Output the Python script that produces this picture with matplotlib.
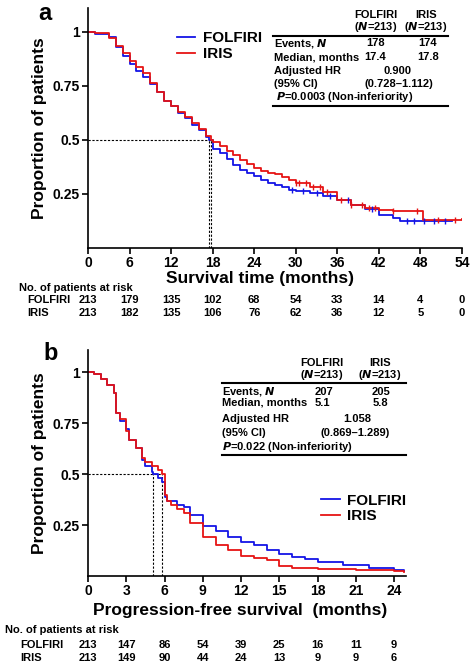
import matplotlib
matplotlib.use("Agg")
import matplotlib.pyplot as plt
import numpy as np

plt.rcParams['font.family'] = ['Liberation Sans', 'DejaVu Sans']
plt.rcParams['font.weight'] = 'bold'

BLUE = '#1414e6'
RED = '#e61414'

# Panel a: overall survival
a_folfiri_t = [0, 1, 3, 4, 5, 6, 7, 8, 9, 10, 11, 12, 13, 14, 15, 16, 17, 17.4, 18, 19, 20, 21, 22, 23, 24, 25, 26, 27, 28, 29, 30, 32, 34, 36, 38, 40, 42, 44, 45, 52.5]
a_folfiri_s = [1, 0.99, 0.975, 0.93, 0.89, 0.85, 0.82, 0.79, 0.76, 0.72, 0.68, 0.655, 0.625, 0.6, 0.57, 0.545, 0.515, 0.5, 0.46, 0.44, 0.41, 0.385, 0.36, 0.345, 0.335, 0.315, 0.3, 0.29, 0.28, 0.27, 0.265, 0.255, 0.24, 0.224, 0.2, 0.18, 0.154, 0.14, 0.123, 0.123]
a_iris_t = [0, 1, 3, 4, 5, 6, 7, 8, 9, 10, 11, 12, 13, 14, 15, 16, 17, 17.8, 18, 19, 20, 21, 22, 23, 24, 25, 26, 27, 28, 29, 30, 32, 34, 36, 38, 40, 42, 44, 48.3, 53.5, 54]
a_iris_s = [1, 0.995, 0.97, 0.935, 0.9, 0.865, 0.835, 0.81, 0.765, 0.72, 0.68, 0.655, 0.63, 0.605, 0.58, 0.55, 0.52, 0.5, 0.49, 0.47, 0.45, 0.43, 0.405, 0.39, 0.37, 0.355, 0.345, 0.34, 0.33, 0.315, 0.3, 0.28, 0.26, 0.224, 0.2, 0.185, 0.175, 0.17, 0.128, 0.128, 0.135]
a_folfiri_cens = [29.5, 31, 33, 35, 37.5, 41, 46, 47, 48.5, 50, 51.5]
a_iris_cens = [30, 30.5, 31.5, 32.5, 33.5, 34.5, 36.5, 38, 39.5, 40.5, 41.5, 44, 47.5, 50.5, 53]
a_xticks = [0, 6, 12, 18, 24, 30, 36, 42, 48, 54]
a_risk_folfiri = [213, 179, 135, 102, 68, 54, 33, 14, 4, 0]
a_risk_iris = [213, 182, 135, 106, 76, 62, 36, 12, 5, 0]
a_median = [17.4, 17.8]

# Panel b: progression-free survival
b_folfiri_t = [0, 0.5, 1, 1.5, 2, 2.2, 2.5, 3, 3.2, 3.8, 4.2, 4.5, 5, 5.1, 5.5, 5.8, 6, 6.2, 7, 7.5, 8, 9, 10, 11, 12, 13, 14, 15, 16, 17, 18, 20, 22, 24, 24.8]
b_folfiri_s = [1, 0.99, 0.97, 0.94, 0.9, 0.8, 0.76, 0.72, 0.67, 0.63, 0.57, 0.54, 0.51, 0.5, 0.48, 0.46, 0.39, 0.37, 0.35, 0.34, 0.3, 0.245, 0.22, 0.19, 0.165, 0.15, 0.13, 0.11, 0.095, 0.085, 0.07, 0.055, 0.04, 0.03, 0.025]
b_iris_t = [0, 0.5, 1, 1.5, 2, 2.2, 2.5, 3, 3.2, 3.8, 4.2, 4.5, 5, 5.5, 5.8, 6, 6.2, 6.5, 7, 7.5, 8, 9, 10, 11, 12, 13, 14, 15, 16, 18, 21, 24, 24.8]
b_iris_s = [1, 0.99, 0.97, 0.94, 0.9, 0.8, 0.77, 0.71, 0.67, 0.63, 0.58, 0.56, 0.54, 0.52, 0.5, 0.4, 0.37, 0.35, 0.33, 0.31, 0.26, 0.19, 0.15, 0.13, 0.1, 0.09, 0.08, 0.05, 0.04, 0.033, 0.03, 0.025, 0.02]
b_xticks = [0, 3, 6, 9, 12, 15, 18, 21, 24]
b_risk_folfiri = [213, 147, 86, 54, 39, 25, 16, 11, 9]
b_risk_iris = [213, 149, 90, 44, 24, 13, 9, 9, 6]
b_median = [5.1, 5.8]
yticks = [0.25, 0.5, 0.75, 1]
ytick_labels = ['0.25', '0.5', '0.75', '1']

W, H = 474, 663
fig = plt.figure(figsize=(W / 100, H / 100), dpi=100)

def T(x, y, s, size=8, ha='left', **kw):
    fig.text(x / W, 1 - y / H, s, fontsize=size, ha=ha, va='center', fontweight='bold', **kw)

def setup(ax, xmax, xticks):
    ax.set_xlim(0, xmax)
    ax.set_ylim(0, 1.11)
    ax.spines['top'].set_visible(False)
    ax.spines['right'].set_visible(False)
    ax.spines['left'].set_linewidth(1.2)
    ax.spines['bottom'].set_linewidth(1.2)
    ax.set_xticks(xticks)
    ax.set_xticklabels([str(v) for v in xticks], fontsize=10, fontweight='bold')
    ax.set_yticks(yticks)
    ax.set_yticklabels(ytick_labels, fontsize=10, fontweight='bold')
    ax.tick_params(length=4, width=1.2, pad=2)
    ax.set_ylabel('Proportion of patients', fontsize=12.5, fontweight='bold', labelpad=4)

def median_lines(ax, meds):
    ax.plot([0, max(meds)], [0.5, 0.5], ls=(0, (2, 1.5)), color='k', lw=0.8)
    for m in meds:
        ax.plot([m, m], [0, 0.5], ls=(0, (2, 1.5)), color='k', lw=0.8)

# Panel a
axa = fig.add_axes([88 / W, 1 - 248 / H, (462 - 88) / W, (248 - 8) / H])
setup(axa, 54, a_xticks)
median_lines(axa, a_median)
axa.step(a_folfiri_t, a_folfiri_s, where='post', color=BLUE, lw=1.3, label='FOLFIRI')
axa.step(a_iris_t, a_iris_s, where='post', color=RED, lw=1.3, label='IRIS')
for c, t_, s_, ts in [(BLUE, a_folfiri_t, a_folfiri_s, a_folfiri_cens), (RED, a_iris_t, a_iris_s, a_iris_cens)]:
    ys = [s_[np.searchsorted(t_, x, side='right') - 1] for x in ts]
    axa.plot(ts, ys, ls='none', marker='|', ms=5, color=c, mew=1)
axa.legend(loc='upper left', bbox_to_anchor=(0.2, 0.96), frameon=False,
           handlelength=1.2, handletextpad=0.5, labelspacing=0.1, prop={'weight': 'bold', 'size': 11})

T(38, 13, 'a', size=17)
T(260, 278, 'Survival time (months)', size=12.5, ha='center')
T(19, 288, 'No. of patients at risk', size=8)
T(27, 300, 'FOLFIRI', size=8)
T(27, 313, 'IRIS', size=8)
for i, x in enumerate(a_xticks):
    px = 88 + x * (462 - 88) / 54
    T(px, 300, str(a_risk_folfiri[i]), size=8, ha='center')
    T(px, 313, str(a_risk_iris[i]), size=8, ha='center')

T(376, 15, 'FOLFIRI', size=8, ha='center')
T(376, 27, '($\\mathbfit{N}$=213)', size=8, ha='center')
T(426, 15, 'IRIS', size=8, ha='center')
T(426, 27, '($\\mathbfit{N}$=213)', size=8, ha='center')
fig.add_artist(plt.Line2D([273 / W, 448 / W], [1 - 36 / H, 1 - 36 / H], color='k', lw=1.5))
T(274, 43, 'Events, $\\mathbfit{N}$', size=8)
T(274, 57, 'Median, months', size=8)
T(274, 71, 'Adjusted HR', size=8)
T(274, 84, '(95% CI)', size=8)
T(276, 97, '$\\mathbfit{P}$=0.0003 (Non-inferiority)', size=8)
T(376, 43, '178', size=8, ha='center')
T(428, 43, '174', size=8, ha='center')
T(375, 57, '17.4', size=8, ha='center')
T(428, 57, '17.8', size=8, ha='center')
T(397, 71, '0.900', size=8, ha='center')
T(399, 84, '(0.728\u20131.112)', size=8, ha='center')
fig.add_artist(plt.Line2D([273 / W, 448 / W], [1 - 106 / H, 1 - 106 / H], color='k', lw=1.5))

# Panel b
axb = fig.add_axes([88 / W, 1 - 576 / H, (406 - 88) / W, (576 - 350) / H])
setup(axb, 24 * (406 - 88) / (394 - 88), b_xticks)
median_lines(axb, b_median)
axb.step(b_folfiri_t, b_folfiri_s, where='post', color=BLUE, lw=1.3, label='FOLFIRI')
axb.step(b_iris_t, b_iris_s, where='post', color=RED, lw=1.3, label='IRIS')
axb.legend(loc='upper left', bbox_to_anchor=(0.69, 0.425), frameon=False,
           handlelength=1.2, handletextpad=0.5, labelspacing=0.1, prop={'weight': 'bold', 'size': 11})

T(43, 354, 'b', size=17)
T(240, 611, 'Progression-free survival  (months)', size=12.5, ha='center')
T(5, 630, 'No. of patients at risk', size=8)
T(20, 645, 'FOLFIRI', size=8)
T(20, 658, 'IRIS', size=8)
for i, x in enumerate(b_xticks):
    px = 88 + x * (394 - 88) / 24
    T(px, 645, str(b_risk_folfiri[i]), size=8, ha='center')
    T(px, 658, str(b_risk_iris[i]), size=8, ha='center')

T(322, 363, 'FOLFIRI', size=8, ha='center')
T(322, 375, '($\\mathbfit{N}$=213)', size=8, ha='center')
T(380, 363, 'IRIS', size=8, ha='center')
T(380, 375, '($\\mathbfit{N}$=213)', size=8, ha='center')
fig.add_artist(plt.Line2D([222 / W, 406 / W], [1 - 383 / H, 1 - 383 / H], color='k', lw=1.5))
T(222, 392, 'Events, $\\mathbfit{N}$', size=8)
T(222, 403, 'Median, months', size=8)
T(222, 419, 'Adjusted HR', size=8)
T(222, 433, '(95% CI)', size=8)
T(222, 447, '$\\mathbfit{P}$=0.022 (Non-inferiority)', size=8)
T(324, 392, '207', size=8, ha='center')
T(381, 392, '205', size=8, ha='center')
T(322, 403, '5.1', size=8, ha='center')
T(380, 403, '5.8', size=8, ha='center')
T(357, 419, '1.058', size=8, ha='center')
T(355, 433, '(0.869\u20131.289)', size=8, ha='center')
fig.add_artist(plt.Line2D([222 / W, 406 / W], [1 - 455 / H, 1 - 455 / H], color='k', lw=1.5))

fig.savefig('out.png', dpi=100)
